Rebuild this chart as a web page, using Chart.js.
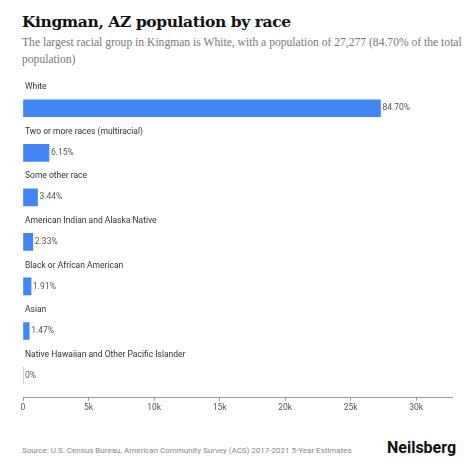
<!DOCTYPE html>
<html>
<head>
<meta charset="utf-8">
<script src="https://cdn.jsdelivr.net/npm/chart.js@4"></script>
<style>
  body { margin: 0; width: 474px; height: 474px; background: #fff; position: relative; overflow: hidden; }
  #title { position: absolute; left: 22px; top: 12px; font: bold 15.5px "DejaVu Serif", serif; color: #111; letter-spacing: -0.4px; }
  #sub { position: absolute; left: 22px; top: 34px; width: 440px; font: 11.6px "Liberation Serif", serif; color: #777; line-height: 17px; }
  #wrap { position: absolute; left: 0; top: 74px; width: 474px; height: 341px; }
  #source { position: absolute; left: 22px; top: 446px; font: 8px Roboto, sans-serif; color: #888; }
  #brand { position: absolute; left: 387px; top: 438px; font: bold 16px Roboto, sans-serif; color: #111; }
</style>
</head>
<body>
<div id="title">Kingman, AZ population by race</div>
<div id="sub">The largest racial group in Kingman is White, with a population of 27,277 (84.70% of the total population)</div>
<div id="wrap"><canvas id="chart"></canvas></div>
<div id="source">Source: U.S. Census Bureau, American Community Survey (ACS) 2017-2021 5-Year Estimates</div>
<div id="brand">Neilsberg</div>
<script>
const categories = ["White", "Two or more races (multiracial)", "Some other race", "American Indian and Alaska Native", "Black or African American", "Asian", "Native Hawaiian and Other Pacific Islander"]
const population = [27277, 1981, 1108, 750, 615, 473, 0]
const shares     = ["84.70%", "6.15%", "3.44%", "2.33%", "1.91%", "1.47%", "0%"]
const tickLabels = ["0", "5k", "10k", "15k", "20k", "25k", "30k"]

const labelPlugin = {
    id: "labels",
    afterDatasetsDraw(chart) {
        const ctx = chart.ctx
        const meta = chart.getDatasetMeta(0)
        const x0 = chart.scales.x.getPixelForValue(0)
        ctx.save()
        ctx.font = "8.5px Roboto, sans-serif"
        meta.data.forEach((bar, i) => {
            ctx.fillStyle = "#333"
            ctx.textBaseline = "middle"
            ctx.fillText(categories[i], x0 + 2, bar.y - 21)
            ctx.fillStyle = "#555"
            ctx.fillText(shares[i], bar.x + 2, bar.y)
        })
        ctx.restore()
    }
}

new Chart(document.getElementById("chart"), {
    type: "bar",
    data: { labels: categories, datasets: [{ data: population, backgroundColor: "#4285f4", barThickness: 17 }] },
    options: {
        indexAxis: "y",
        responsive: true,
        maintainAspectRatio: false,
        animation: false,
        layout: { padding: { left: 23, right: 22, top: 12, bottom: 0 } },
        plugins: { legend: { display: false }, tooltip: { enabled: false } },
        scales: {
            y: { display: false, offset: true, grid: { display: false } },
            x: {
                min: 0, max: 32732,
                afterBuildTicks(axis) { axis.ticks = tickLabels.map((t, i) => ({ value: i * 5000 })) },
                grid: { drawOnChartArea: false, drawTicks: true, tickLength: 3, color: "#999" },
                border: { color: "#999" },
                ticks: { callback: (v, i) => tickLabels[i], font: { family: "Roboto", size: 8.5 }, color: "#555", padding: 2 }
            }
        }
    },
    plugins: [labelPlugin]
})
</script>
</body>
</html>
